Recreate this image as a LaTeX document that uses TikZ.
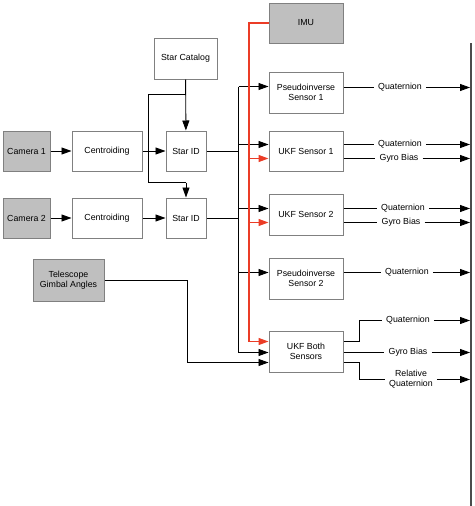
\documentclass[tikz,border=0pt]{standalone}
\usepackage{fontspec}
\setmainfont{Liberation Sans}
\usetikzlibrary{arrows.meta}
\definecolor{boxgray}{gray}{0.75}
\definecolor{imured}{RGB}{235,60,38}
\definecolor{bargray}{gray}{0.3}
\tikzset{
  blk/.style={draw=gray, line width=1pt, fill=white, minimum height=40pt,
    align=center, inner sep=1pt, font=\fontsize{8.8}{10.2}\selectfont},
  src/.style={blk, fill=boxgray},
  wire/.style={line width=0.9pt},
  sig/.style={wire, -{Triangle[length=10pt,width=7pt]}},
  redwire/.style={line width=1.2pt, draw=imured},
  redsig/.style={redwire, -{Triangle[length=10pt,width=7pt]}, fill=imured},
  lbl/.style={inner sep=4pt, align=center, font=\fontsize{8.8}{10.2}\selectfont},
}

\begin{document}
\begin{tikzpicture}[x=1pt,y=-1pt]
      \useasboundingbox (0,0) rectangle (474,506);

      \coordinate (CatB) at (186,94.5);
      \coordinate (CatL) at (148.5,94.5);
      \coordinate (CatD) at (148.5,182.5);
      \coordinate (CatR) at (186,182.5);

      \coordinate (BusTop) at (238.5,86.5);
      \coordinate (BusU1) at (238.5,144.5);
      \coordinate (BusU2) at (238.5,208.5);
      \coordinate (BusP2) at (238.5,272.5);
      \coordinate (BusBot) at (238.5,352.5);

      \coordinate (RedL) at (249,23);
      \coordinate (RedU1) at (249,158.5);
      \coordinate (RedU2) at (249,222.5);
      \coordinate (RedBot) at (249,341.5);

      \coordinate (GimA) at (187.5,280.5);
      \coordinate (GimB) at (187.5,362.5);

      \coordinate (BothQ) at (359.5,341.5);
      \coordinate (BothB) at (359.5,352.5);
      \coordinate (BothR) at (359.5,362.5);

      \coordinate (BarTop) at (471,43);
      \coordinate (BarBot) at (471,506);
      \coordinate (BarIn) at (470,0);

      % inputs
      \node[src, minimum width=47pt] (Cam1) at (26.5,151) {Camera 1};
      \node[src, minimum width=47pt] (Cam2) at (26.5,218) {Camera 2};
      \node[blk, minimum width=70pt] (Cen1) at (107,151) {Centroiding};
      \node[blk, minimum width=70pt] (Cen2) at (107,218) {Centroiding};
      \node[blk, minimum width=40pt] (Sid1) at (186,151) {Star ID};
      \node[blk, minimum width=40pt] (Sid2) at (186,218) {Star ID};
      \node[blk, minimum width=63pt, minimum height=41pt] (Cat) at (185.5,58.5) {Star Catalog};
      \node[src, minimum width=71pt, minimum height=42pt] (Gim) at (68.5,280.5) {Telescope\\Gimbal Angles};
      \node[src, minimum width=74pt] (Imu) at (306,23) {IMU};

      % estimators
      \node[blk, minimum width=74pt, minimum height=41pt] (Pinv1) at (306,92.5) {Pseudoinverse\\Sensor 1};
      \node[blk, minimum width=74pt] (Ukf1) at (306,151) {UKF Sensor 1};
      \node[blk, minimum width=74pt, minimum height=41pt] (Ukf2) at (306,214.5) {UKF Sensor 2};
      \node[blk, minimum width=74pt, minimum height=41pt] (Pinv2) at (306,278.5) {Pseudoinverse\\Sensor 2};
      \node[blk, minimum width=74pt, minimum height=41pt] (Both) at (306,351.5) {UKF Both\\Sensors};

      % output labels
      \node[lbl] (QPinv1) at (400,87.5) {Quaternion};
      \node[lbl] (QUkf1) at (400,144.5) {Quaternion};
      \node[lbl] (BUkf1) at (399,158.5) {Gyro Bias};
      \node[lbl] (QUkf2) at (403,208.5) {Quaternion};
      \node[lbl] (BUkf2) at (401,222.5) {Gyro Bias};
      \node[lbl] (QPinv2) at (407,272.5) {Quaternion};
      \node[lbl] (QBoth) at (408,320.5) {Quaternion};
      \node[lbl] (BBoth) at (408,352.5) {Gyro Bias};
      \node[lbl] (RBoth) at (411,379.5) {Relative\\Quaternion};

      \draw[sig] (Cam1) -- (Cen1);
      \draw[sig] (Cen1) -- (Sid1);
      \draw[sig] (Cam2) -- (Cen2);
      \draw[sig] (Cen2) -- (Sid2);

      \draw[sig] (Cat) -- (Sid1);
      \draw[wire] (CatB) -- (CatL) -- (CatD) -- (CatR);
      \draw[sig] (CatR) -- (Sid2);

      \draw[wire] (Sid1.east) -- (BusTop |- Sid1.east);
      \draw[wire] (Sid2.east) -- (BusTop |- Sid2.east);
      \draw[wire] (BusTop) -- (BusBot);

      \draw[sig] (BusTop) -- (BusTop -| Pinv1.west);
      \draw[sig] (BusU1) -- (BusU1 -| Ukf1.west);
      \draw[sig] (BusU2) -- (BusU2 -| Ukf2.west);
      \draw[sig] (BusP2) -- (BusP2 -| Pinv2.west);
      \draw[sig] (BusBot) -- (BusBot -| Both.west);

      \draw[redwire] (Imu.west) -- (RedL) -- (RedBot);
      \draw[redsig] (RedU1) -- (RedU1 -| Ukf1.west);
      \draw[redsig] (RedU2) -- (RedU2 -| Ukf2.west);
      \draw[redsig] (RedBot) -- (RedBot -| Both.west);

      \draw[sig] (Gim.east) -- (GimA) -- (GimB) -- (GimB -| Both.west);

      % outputs
      \draw[wire] (Pinv1.east |- QPinv1) -- (QPinv1);
      \draw[wire] (Ukf1.east |- QUkf1) -- (QUkf1);
      \draw[wire] (Ukf1.east |- BUkf1) -- (BUkf1);
      \draw[wire] (Ukf2.east |- QUkf2) -- (QUkf2);
      \draw[wire] (Ukf2.east |- BUkf2) -- (BUkf2);
      \draw[wire] (Pinv2.east |- QPinv2) -- (QPinv2);
      \draw[wire] (BothQ -| Both.east) -- (BothQ) |- (QBoth.west);
      \draw[wire] (BothB -| Both.east) -- (BBoth);
      \draw[wire] (BothR -| Both.east) -- (BothR) |- (RBoth.west);

      \draw[sig] (QPinv1) -- (QPinv1 -| BarIn);
      \draw[sig] (QUkf1) -- (QUkf1 -| BarIn);
      \draw[sig] (BUkf1) -- (BUkf1 -| BarIn);
      \draw[sig] (QUkf2) -- (QUkf2 -| BarIn);
      \draw[sig] (BUkf2) -- (BUkf2 -| BarIn);
      \draw[sig] (QPinv2) -- (QPinv2 -| BarIn);
      \draw[sig] (QBoth) -- (QBoth -| BarIn);
      \draw[sig] (BBoth) -- (BBoth -| BarIn);
      \draw[sig] (RBoth) -- (RBoth -| BarIn);

      \draw[line width=2pt, bargray] (BarTop) -- (BarBot);
    \end{tikzpicture}
\end{document}
